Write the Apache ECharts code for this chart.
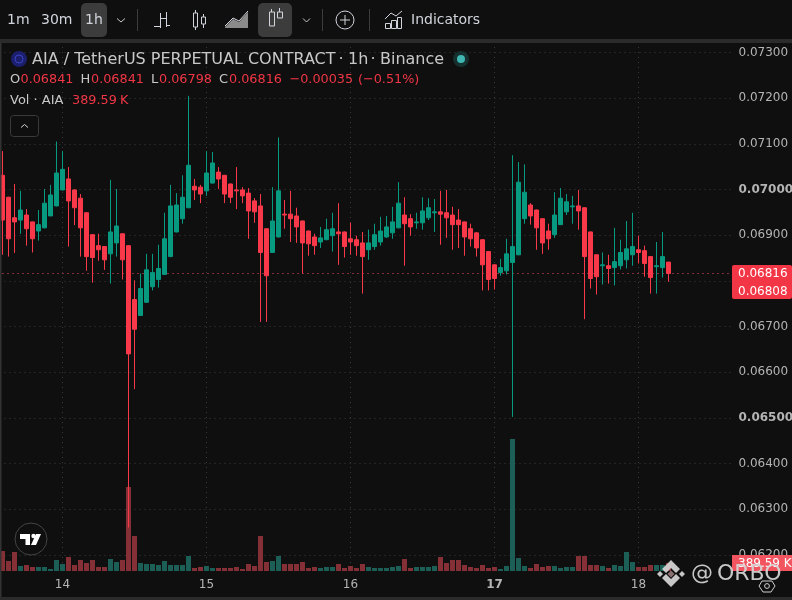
<!DOCTYPE html>
<html><head><meta charset="utf-8">
<style>html,body{margin:0;padding:0;background:#0f0f0f}#c{width:792px;height:600px}</style>
<script src="https://cdn.jsdelivr.net/npm/echarts@6/dist/echarts.min.js"></script>
</head><body><div id="c"></div>
<script>
// prices in units of 0.00001
const opens=[7031,6983,6938,6933,6944,6929,6909,6916,6942,6964,
6999,7023,6999,6981,6949,6901,6877,6875,6859,6883,
6903,6877,6759,6724,6753,6787,6803,6814,6853,6907,
6936,6960,7007,7005,6997,7014,7038,7031,7012,6999,
6999,6992,6975,6964,6914,6862,6896,6946,6946,6942,
6931,6909,6896,6885,6890,6899,6907,6907,6892,6890,
6883,6868,6875,6885,6896,6905,6916,6944,6936,6927,
6927,6938,6949,6951,6949,6944,6933,6929,6914,6905,
6890,6864,6835,6818,6822,6840,6857,6936,6966,6955,
6936,6909,6901,6923,6951,6962,6964,6960,6907,6857,
6833,6833,6829,6833,6846,6857,6868,6866,6853,6831,
6829,6841];
const closes=[6933,6892,6929,6955,6914,6892,6923,6970,6988,7036,
7044,6975,6960,6916,6853,6851,6868,6846,6907,6920,
6846,6640,6694,6783,6824,6818,6827,6892,6964,6966,
6983,7053,6999,6990,7036,7058,7023,6990,6983,6997,
6986,6953,6951,6862,6811,6931,6997,6944,6936,6918,
6883,6881,6877,6894,6912,6914,6903,6875,6885,6877,
6853,6883,6901,6909,6918,6929,6970,6925,6918,6929,
6953,6960,6951,6946,6938,6923,6923,6896,6892,6872,
6835,6803,6805,6829,6859,6875,7016,6994,6942,6916,
6883,6892,6944,6981,6973,6964,6953,6853,6805,6809,
6835,6827,6842,6862,6870,6875,6862,6838,6807,6833,
6853,6816];
const lows=[6857,6853,6861,6903,6877,6862,6888,6915,6942,6963,
6998,6875,6922,6853,6822,6796,6844,6824,6794,6853,
6803,6260,6563,6723,6752,6779,6785,6813,6852,6906,
6925,6959,6977,6970,6986,7013,7001,6970,6970,6957,
6970,6892,6927,6710,6710,6861,6895,6914,6885,6883,
6816,6855,6857,6872,6889,6864,6835,6851,6857,6855,
6772,6846,6868,6877,6894,6892,6915,6833,6899,6914,
6912,6933,6907,6879,6894,6868,6872,6855,6875,6853,
6779,6779,6781,6811,6814,6502,6856,6925,6923,6868,
6859,6868,6894,6922,6944,6925,6912,6716,6783,6770,
6792,6794,6790,6825,6827,6833,6838,6809,6772,6772,
6807,6798];
const highs=[7084,6984,7012,6997,6957,6930,6955,7001,7010,7105,
7084,7049,7000,6990,6950,6902,6903,6876,7021,7001,
6904,6878,6801,6816,6859,6859,6879,6949,7010,6992,
7031,7205,7023,7010,7084,7082,7049,7032,7013,7049,
7005,7003,6981,6990,6915,7005,7114,6977,6997,6960,
6932,6910,6903,6918,6936,6949,6970,6908,6927,6899,
6907,6912,6925,6940,6942,6962,7016,6983,6946,6949,
6983,6981,6979,6997,6999,6962,6957,6930,6925,6906,
6891,6865,6836,6848,6892,7075,7060,7055,6970,6956,
6937,6925,6994,7003,6990,6986,6999,6961,6908,6858,
6862,6857,6916,6890,6931,6949,6899,6877,6854,6885,
6907,6841];
// volumes in thousands
const volumes=[974,487,925,244,292,195,195,195,97,536,
341,682,292,536,390,536,195,195,584,438,
536,4091,1705,390,341,341,292,487,292,292,
292,731,146,195,244,146,146,146,146,195,
97,341,244,1705,438,487,731,341,341,341,
438,146,195,146,195,195,341,146,244,146,
341,195,146,146,146,195,244,584,146,195,
195,195,244,682,390,536,536,292,195,146,
292,146,195,97,244,6428,633,244,146,341,
195,244,244,146,195,195,731,731,292,292,
244,146,292,244,925,438,195,195,292,292,
292,389.59];
const dayLabels={10:'14',34:'15',58:'16',82:'17',106:'18'};
const futureBars=10;
const lastPrice=0.06816;
const boldPrices=['0.07000','0.06500'];

const UP='#089981',DOWN='#f9394a',VUP='#1b5f56',VDOWN='#853036',BG='#0f0f0f',GRID='#3a3a3a',TXT='#b4b4b4';
const FONT='"DejaVu Sans"';
const P=v=>+(v*1e-5).toFixed(5);
const n=opens.length+futureBars;
const categories=Array.from({length:n},(_,i)=>dayLabels[i]||'');
const candle=opens.map((o,i)=>[P(o),P(closes[i]),P(lows[i]),P(highs[i])]);
const vols=volumes.map((v,i)=>({value:v,itemStyle:{color:closes[i]>=opens[i]?VUP:VDOWN}}));
const priceLine=categories.map(()=>lastPrice);

const g=[];
const Z=100;
const rect=(x,y,w,h,fill,r,stroke)=>g.push({type:'rect',z:Z,silent:true,shape:{x,y,width:w,height:h,r:r||0},style:{fill:fill||'none',stroke:stroke||null,lineWidth:1}});
const line=(pts,c,w)=>g.push({type:'polyline',z:Z,silent:true,shape:{points:pts},style:{stroke:c||'#d1d4dc',lineWidth:w||1,fill:null}});
const poly=(pts,fill,stroke)=>g.push({type:'polygon',z:Z,silent:true,shape:{points:pts},style:{fill:fill||'none',stroke:stroke||null,lineWidth:1}});
const circ=(x,y,r,fill,stroke)=>g.push({type:'circle',z:Z,silent:true,shape:{cx:x,cy:y,r},style:{fill:fill||'none',stroke:stroke||null,lineWidth:1}});
const txt=(x,y,s,fill,size,extra)=>g.push({type:'text',z:Z,silent:true,x,y:y+0.5,style:Object.assign({text:s,fill,font:(size||13)+'px '+FONT,textVerticalAlign:'middle',textBaseline:'middle'},extra||{})});

// chrome bands
rect(0,0,792,39,BG);
rect(0,39,792,4,'#2b2b2b');
rect(0,597,792,3,'#2b2b2b');
rect(0,43,1.5,554,'#333333');
// toolbar
rect(81,3,26,34,'#3c3c3c',5);
rect(258,3,34,34,'#3c3c3c',5);
txt(7,20,'1m','#d1d4dc',14);
txt(41,20,'30m','#d1d4dc',14);
txt(85,20,'1h','#d1d4dc',14);
line([[117,18.5],[121,22],[125,18.5]],'#c8c8c8');
line([[303,18.5],[306.5,22],[310,18.5]],'#c8c8c8');
[137.5,322.5,369.5].forEach(x=>line([[x,9],[x,31]],'#3c3c3c'));
// bars icon
line([[160.5,13],[160.5,28]]);line([[154,26.5],[160,26.5]]);line([[161,18.5],[165,18.5]]);
line([[166.5,12],[166.5,27]]);line([[162,18.5],[166,18.5]]);line([[167,25.5],[170,25.5]]);
// candle icon
line([[195.5,10],[195.5,30]]);rect(193.5,13,4,14,BG,0,'#d1d4dc');
line([[203.5,14],[203.5,28]]);rect(201.5,17,4,7,BG,0,'#d1d4dc');
// area icon
poly([[225,27],[233,19],[239,22],[248,12],[248,28],[225,28]],'#8a8a8a');
line([[225,26],[233,18],[239,21],[248,11]]);
// hollow candle icon
line([[271.5,9],[271.5,12]]);rect(269.5,12,5,14,'none',0,'#d1d4dc');
line([[279.5,8],[279.5,12]]);rect(277.5,12,5,6,'none',0,'#d1d4dc');
// plus icon
circ(345,20,9,null,'#d1d4dc');line([[340,20],[350,20]]);line([[345,15],[345,25]]);
// indicators icon
rect(385.5,23.5,5,5,null,0,'#d1d4dc');rect(391.5,20.5,5,8,null,0,'#d1d4dc');rect(397.5,17.5,4,11,null,0,'#d1d4dc');
line([[385,19],[391,13],[396,16],[402,11]]);
txt(411,20,'Indicators','#d1d4dc',14);
// legend
circ(19,59,8,'#1b1f6e');circ(19,59,4,null,'#3a44c0');
const TT='#c8c8c8';
txt(32,59.5,'AIA / TetherUS PERPETUAL CONTRACT',TT,16);
txt(338.5,59.5,'·',TT,16);txt(348,59.5,'1h',TT,16);txt(370.5,59.5,'·',TT,16);txt(380,59.5,'Binance',TT,16);
circ(461,59,8,'#16302f');circ(461,59,4,'#3fb6b2');
const L='#c8c8c8',R='#f23645';
txt(10,79.5,'O',L,13);txt(20.5,79.5,'0.06841',R,12.8);
txt(80.5,79.5,'H',L,13);txt(91,79.5,'0.06841',R,12.8);
txt(151,79.5,'L',L,13);txt(159,79.5,'0.06798',R,12.8);
txt(219,79.5,'C',L,13);txt(229,79.5,'0.06816',R,12.8);
txt(289.5,79.5,'−0.00035',R,12.8);txt(358,79.5,'(−0.51%)',R,12.8);
txt(10,100.5,'Vol · AIA',L,13);txt(72,100.5,'389.59',R,12.8);txt(120,100.5,'K',R,12.8);
rect(10.5,115.5,28,21,BG,3,'#3a3a3a');
line([[21,127.5],[24.5,124.5],[28,127.5]],'#d1d4dc');
// tv logo
circ(31,539,16,BG,'#444444');
poly([[20,534],[30,534],[30,545],[25.5,545],[25.5,539],[20,539]],'#ffffff');
circ(33.5,536,2.2,'#ffffff');
poly([[36,534],[41,534],[36,545],[31,545]],'#ffffff');
// price badges
rect(732,265,60,34,'#f23645',2);
txt(738,273,'0.06816','#ffffff',12);
txt(738,291,'0.06808','#ffffff',12);
rect(732,555,60,16,'#f25560');
txt(738,563,'389.59 K','#ffffff',12);
// watermark
const W='rgba(215,215,215,0.92)';
poly([[671,560],[680,569],[676,573],[671,568],[666,573],[662,569]],W);
poly([[671,587],[680,578],[676,574],[671,579],[666,574],[662,578]],W);
poly([[660,571],[663,574],[660,577],[657,574]],W);
poly([[682,571],[685,574],[682,577],[679,574]],W);
poly([[671,570.5],[674.5,574],[671,577.5],[667.5,574]],'#8a7070');
txt(691,574,'@',W,22);txt(717,574,'ORBO',W,22);
poly([[762,581],[772,581],[775,586],[771,592],[763,592],[759,586]],null,'#cfcfcf');
circ(767,586,2.4,null,'#cfcfcf');

const option={
 backgroundColor:BG,animation:false,
 grid:[
  {left:-0.5,width:732,top:52.45,height:502.4,outerBoundsMode:'none'},
  {left:-0.5,width:732,top:42,height:529,outerBoundsMode:'none'}
 ],
 xAxis:[
  {gridIndex:0,type:'category',data:categories,show:false},
  {gridIndex:1,type:'category',data:categories,
   axisLine:{show:false},axisTick:{show:false},
   axisLabel:{interval:0,color:TXT,fontSize:12,fontFamily:FONT,margin:8,
     formatter:v=>v==='17'?'{b|17}':v,rich:{b:{fontWeight:'bold',color:TXT,fontSize:12,fontFamily:FONT}}},
   splitLine:{show:true,alignWithLabel:true,interval:(i)=>!!dayLabels[i],lineStyle:{color:GRID,type:[1,4],width:1}}}
 ],
 yAxis:[
  {gridIndex:0,type:'value',position:'right',min:0.062,max:0.073,interval:0.001,
   axisLine:{show:false},axisTick:{show:false},
   axisLabel:{margin:7,color:TXT,fontSize:12,fontFamily:FONT,
     formatter:v=>{const s=v.toFixed(5);return boldPrices.includes(s)?'{b|'+s+'}':s;},
     rich:{b:{fontWeight:'bold',color:TXT,fontSize:12,fontFamily:FONT}}},
   splitLine:{show:true,lineStyle:{color:GRID,type:[1,4],width:1}}},
  {gridIndex:1,type:'value',min:0,max:25762,show:false,splitLine:{show:false}}
 ],
 series:[
  {type:'bar',xAxisIndex:1,yAxisIndex:1,data:vols,barWidth:5,z:1},
  {type:'line',xAxisIndex:0,yAxisIndex:0,data:priceLine,symbol:'none',silent:true,z:2,
   lineStyle:{color:'#ff4d5e',type:[1,4],width:1}},
  {type:'candlestick',xAxisIndex:0,yAxisIndex:0,data:candle,barWidth:4,z:5,
   itemStyle:{color:UP,color0:DOWN,borderColor:UP,borderColor0:DOWN,borderWidth:1}}
 ],
 graphic:{elements:g}
};
echarts.init(document.getElementById('c'),null,{renderer:'canvas'}).setOption(option);
</script></body></html>
